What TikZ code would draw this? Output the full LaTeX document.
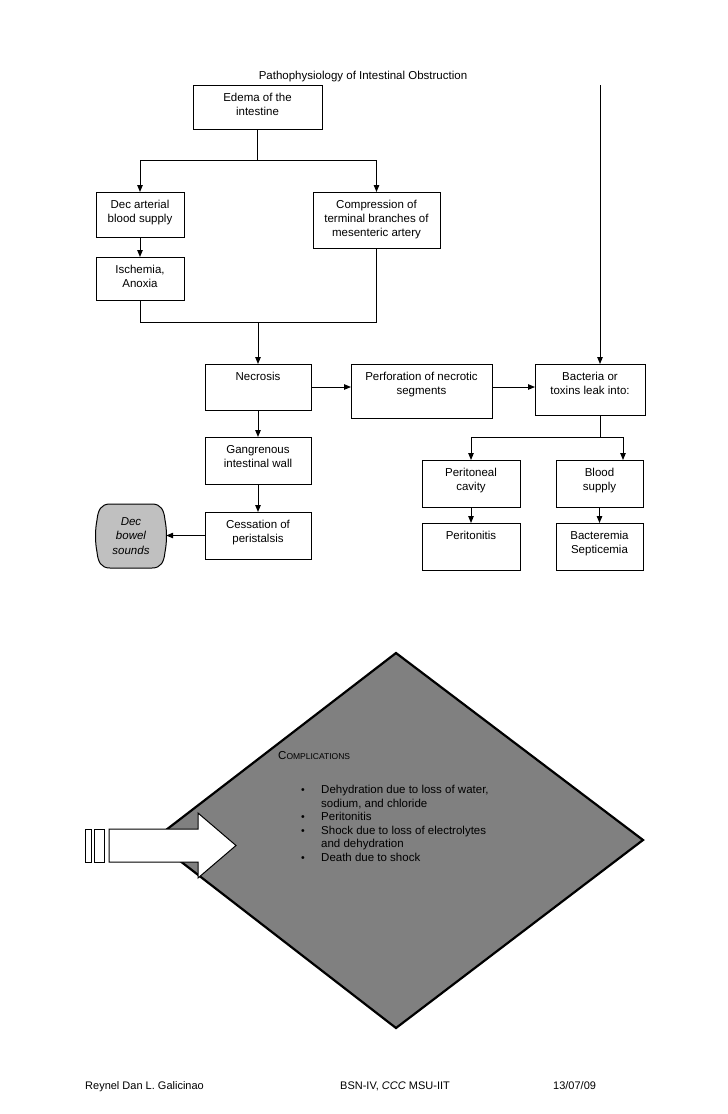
\documentclass[tikz,border=0pt]{standalone}
\usepackage{fontspec}
\setmainfont{Liberation Sans}
\usetikzlibrary{arrows.meta}
\definecolor{diagray}{HTML}{808080}
\definecolor{dbsgray}{HTML}{C0C0C0}
\tikzset{
  box/.style={draw, line width=1pt, rectangle, inner sep=0pt, outer sep=0pt, anchor=north west},
  txt/.style={anchor=north, inner sep=0pt, align=center, font=\fontsize{11.5}{14}\selectfont},
  arr/.style={-{Triangle[length=7pt,width=5.5pt]}, line width=1pt},
  ln/.style={line width=1pt},
  foot/.style={inner sep=0pt, font=\fontsize{11}{13}\selectfont},
  plain/.style={inner sep=0pt, font=\fontsize{11.5}{14}\selectfont},
  bul/.style={inner sep=0pt, font=\fontsize{10.5}{11}\selectfont}
}
\newcommand{\bx}[6]{%
  \node[box, minimum width=#4pt, minimum height=#5pt] (#1) at (#2,#3) {};
  \node[txt] (#1-t) at ([yshift=-8pt]#1.north) {#6};}
\begin{document}
\begin{tikzpicture}[x=1pt,y=-1pt]
\useasboundingbox[fill=white] (0,0) rectangle (728,1114);

% title
\node[plain] (title) at (363,77) {Pathophysiology of Intestinal Obstruction};

% boxes
\bx{edema}{193}{85}{129}{44}{Edema of the\\intestine}
\bx{decart}{96}{192}{88}{45}{Dec arterial\\blood supply}
\bx{comp}{313}{192}{127}{56}{Compression of\\terminal branches of\\mesenteric artery}
\bx{isch}{96}{257}{88}{43}{Ischemia,\\Anoxia}
\bx{necr}{205}{364}{106}{46}{Necrosis}
\bx{perf}{351}{364}{141}{54}{Perforation of necrotic\\segments}
\bx{bact}{535}{364}{110}{51}{Bacteria or\\toxins leak into:}
\bx{gang}{205}{437}{106}{47}{Gangrenous\\intestinal wall}
\bx{cess}{205}{512}{106}{47}{Cessation of\\peristalsis}
\bx{perc}{422}{460}{98}{47}{Peritoneal\\cavity}
\bx{blood}{556}{460}{87}{47}{Blood\\supply}
\bx{peri}{422}{523}{98}{47}{Peritonitis}
\bx{bactm}{556}{523}{87}{47}{Bacteremia\\Septicemia}

% Dec bowel sounds
\draw[line width=1pt, fill=dbsgray]
  (110,504) -- (152,504)
  .. controls (161,504) and (164,510) .. (165,520)
  .. controls (167,530) and (167,542) .. (165,552)
  .. controls (164,562) and (161,568) .. (152,568)
  -- (110,568)
  .. controls (101,568) and (98,562) .. (97,552)
  .. controls (95,542) and (95,530) .. (97,520)
  .. controls (98,510) and (101,504) .. (110,504) -- cycle;
\node[inner sep=0pt, minimum width=70pt, minimum height=64pt, align=center,
      font=\fontsize{11.5}{14.5}\selectfont\itshape] (dbs) at (131,536) {Dec\\bowel\\sounds};

% connectors
\draw[ln] (edema.south) -- ++(0,31) coordinate (s1);
\draw[arr] (s1) -| (decart.north);
\draw[arr] (s1) -| (comp.north);
\draw[arr] (decart.south) -- (isch.north);
\coordinate (j) at (258,322);
\draw[ln] (isch.south) -- (isch.south |- j) -- (comp.south |- j) -- (comp.south);
\draw[arr] (j) -- (j |- necr.north);
\draw[arr] (necr.east) -- (perf.west |- necr.east);
\draw[arr] (perf.east |- necr.east) -- (bact.west |- necr.east);
\coordinate (tp) at (600,85);
\draw[arr] (tp) -- (tp |- bact.north);
\coordinate (s2) at (600,437);
\coordinate (bl) at (623,437);
\draw[ln] (tp |- bact.south) -- (s2);
\draw[arr] (s2) -| (perc.north);
\draw[ln] (s2) -- (bl);
\draw[arr] (bl) -- (bl |- blood.north);
\draw[arr] (perc.south) -- (peri.north);
\draw[arr] (blood.south) -- (bactm.north);
\draw[arr] (necr.south) -- (gang.north);
\draw[arr] (gang.south) -- (cess.north);
\draw[arr] (cess.west) -- (dbs.east |- cess.west);

% diamond
\draw[line width=2.2pt, fill=diagray, line join=miter] (396,653) -- (643,840) -- (396,1028) -- (153,840) -- cycle;

% block arrow
\draw[line width=1pt, fill=white] (85,829) rectangle (91,862);
\draw[line width=1pt, fill=white] (94,829) rectangle (104,862);
\draw[line width=1pt, fill=white, line join=miter]
  (109,829) -- (198,829) -- (198,813) -- (236,845.5) -- (198,878) -- (198,862) -- (109,862) -- cycle;

% complications text
\node[inner sep=0pt, anchor=base west] (ctitle) at (278,759)
  {\fontsize{11.5}{14}\selectfont C\fontsize{8.5}{10}\selectfont OMPLICATIONS};
\node[anchor=north west, inner sep=0pt, align=left, font=\fontsize{11.5}{13.6}\selectfont] (clist) at (321,785)
  {Dehydration due to loss of water,\\sodium, and chloride\\Peritonitis\\Shock due to loss of electrolytes\\and dehydration\\Death due to shock};
\node[bul] (b1) at (303,791) {•};
\node[bul] (b2) at (303,818) {•};
\node[bul] (b3) at (303,832) {•};
\node[bul] (b4) at (303,859) {•};

% footer
\node[foot, anchor=base west] (f1) at (85,1089) {Reynel Dan L. Galicinao};
\node[foot, anchor=base] (f2) at (395,1089) {BSN-IV, \textit{CCC} MSU-IIT};
\node[foot, anchor=base west] (f3) at (553,1089) {13/07/09};
\end{tikzpicture}
\end{document}
